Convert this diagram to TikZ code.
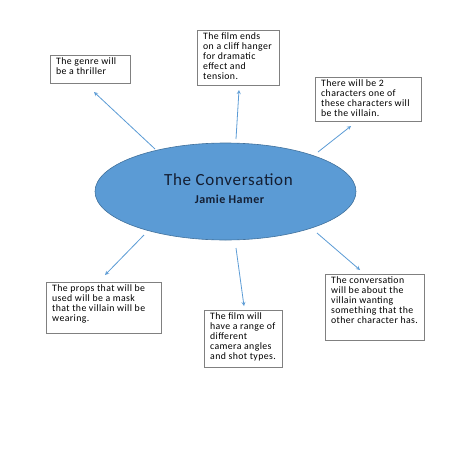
\documentclass[tikz,border=0pt]{standalone}
\usepackage{fontspec}
\setmainfont{Carlito}[LetterSpace = 4]
\usetikzlibrary{shapes.geometric}
\definecolor{officeblue}{RGB}{91,155,213}
\definecolor{darkblue}{RGB}{65,113,156}
\definecolor{titleink}{RGB}{20,30,50}
\begin{document}
\begin{tikzpicture}[x = 1pt, y = -1pt]
			% Page frame
			\useasboundingbox (0, 0) rectangle (453, 453);

			% Custom styles for the boxes and the arrows
			\tikzset{frame/.style = {draw = gray, line width = 0.8pt, inner sep = 0, anchor = north west}}
			\tikzset{note/.style = {font = \fontsize{9.8}{10}\selectfont, align = left, inner sep = 0, anchor = north west}}
			\tikzset{thin arrows/.style = {-stealth, officeblue, line width = 0.8pt}}

			% Central ellipse
			\node[ellipse, fill = officeblue, draw = darkblue, line width = 0.6pt, minimum width = 261, minimum height = 97] (conv) at (225.5, 191.5) {};
			\node[font = \fontsize{17}{20}\selectfont, text = titleink] (title) at (228.5, 180) {The Conversation};
			\node[font = \fontsize{12}{14}\selectfont\bfseries, text = titleink] (name) at (229.5, 199.5) {Jamie Hamer};

			% Boxes
			\node[frame, minimum width = 80, minimum height = 28] (genre) at (50, 55) {};
			\node[note] at (56, 57) {The genre will\\be a thriller};

			\node[frame, minimum width = 82, minimum height = 55] (ending) at (197, 30) {};
			\node[note] at (203, 32) {The film ends\\on a cliff hanger\\for dramatic\\effect and\\tension.};

			\node[frame, minimum width = 106, minimum height = 44] (cast) at (315, 77) {};
			\node[note] at (321, 79) {There will be 2\\characters one of\\these characters will\\be the villain.};

			\node[frame, minimum width = 115, minimum height = 51] (props) at (46, 282) {};
			\node[note] at (52, 284) {The props that will be\\used will be a mask\\that the villain will be\\wearing.};

			\node[frame, minimum width = 78, minimum height = 57] (camera) at (204, 310) {};
			\node[note] at (210, 312) {The film will\\have a range of\\different\\camera angles\\and shot types.};

			\node[frame, minimum width = 99, minimum height = 66] (plot) at (325, 274) {};
			\node[note] at (331, 276) {The conversation\\will be about the\\villain wanting\\something that the\\other character has.};

			% Arrow ends
			\coordinate (s1) at (155, 149);   \coordinate (e1) at (94, 92);
			\coordinate (s2) at (236, 139);   \coordinate (e2) at (239, 90);
			\coordinate (s3) at (318, 152);   \coordinate (e3) at (351, 126);
			\coordinate (s4) at (144, 235);   \coordinate (e4) at (105, 275);
			\coordinate (s5) at (236, 248);   \coordinate (e5) at (244, 306);
			\coordinate (s6) at (317, 233);   \coordinate (e6) at (360, 270);

			% Draw the arrows
			\foreach \i in {1, ..., 6}
				\draw[thin arrows] (s\i)--(e\i);

		\end{tikzpicture}
\end{document}
